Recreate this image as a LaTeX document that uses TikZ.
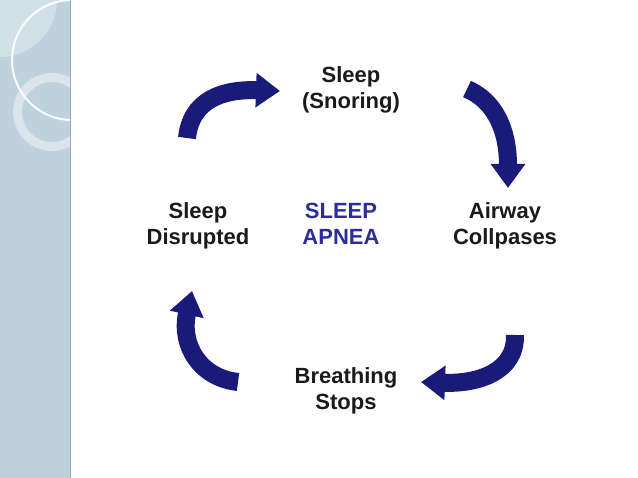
\documentclass[tikz,border=0pt]{standalone}
\usepackage{fontspec}
\setmainfont{Liberation Sans}
\usetikzlibrary{arrows.meta}
\definecolor{band}{RGB}{190,210,222}
\definecolor{bandedge}{RGB}{150,172,186}
\definecolor{ringcol}{RGB}{218,228,234}
\definecolor{navy}{RGB}{26,26,122}
\definecolor{apnea}{RGB}{44,44,160}
\definecolor{txt}{RGB}{26,26,26}
\begin{document}
\begin{tikzpicture}[x=1pt,y=-1pt,
  lbl/.style={align=center,anchor=base,inner sep=0pt,text=txt,
    font=\fontsize{22}{26}\selectfont\bfseries},
  cyc/.style={draw=navy,line width=18pt,
    -{Triangle[width=33pt,length=24pt]}}]
\useasboundingbox (0,0) rectangle (638,478);
\fill[white] (0,0) rectangle (638,478);
% decorative left band
\begin{scope}
  \clip (0,0) rectangle (70,478);
  \fill[band] (0,0) rectangle (70,478);
  \fill[white,opacity=0.3] (0,0) circle (57);
  \draw[ringcol,line width=9pt] (52,112) circle (34.5);
  \draw[white!92!band,line width=2pt] (72,60) circle (60);
\end{scope}
\draw[bandedge,line width=1.5pt] (70.5,0) -- (70.5,478);
% labels (anchored at the baseline of the second line)
\node[lbl] (snore) at (351,109) {Sleep\\(Snoring)};
\node[lbl] (airway) at (505,245) {Airway\\Collpases};
\node[lbl] (breath) at (346,410) {Breathing\\Stops};
\node[lbl] (disrupt) at (198,245) {Sleep\\Disrupted};
\node[lbl,text=apnea] (apnea) at (341,245) {SLEEP\\APNEA};
% arrow end points
\coordinate (a1s) at (187,138);
\coordinate (a1e) at (280,91);
\coordinate (a2s) at (467,89);
\coordinate (a2e) at (508,188);
\coordinate (a3s) at (515,335);
\coordinate (a3e) at (421,382);
\coordinate (a4s) at (238,382);
\coordinate (a4e) at (192,291);
\draw[cyc] (a1s) .. controls (191,100) and (222,89) .. (a1e);
\draw[cyc] (a2s) .. controls (495,101) and (508,130) .. (a2e);
\draw[cyc] (a3s) .. controls (516,372) and (478,384) .. (a3e);
\draw[cyc] (a4s) .. controls (200,378) and (180,345) .. (a4e);
\end{tikzpicture}
\end{document}
